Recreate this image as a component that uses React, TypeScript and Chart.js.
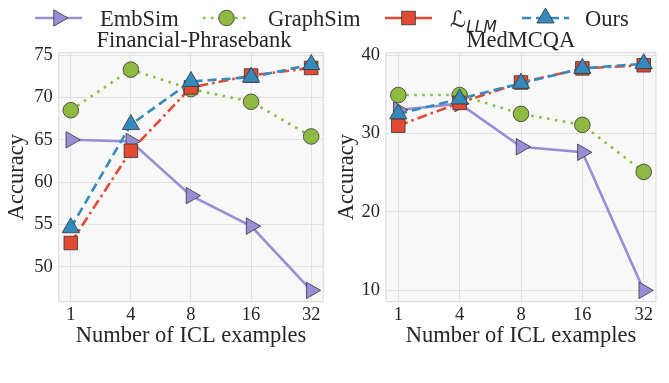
import React, { useEffect, useRef } from "react";
import { Chart, registerables } from "chart.js";

Chart.register(...registerables);

// ---------- data ----------
const xLabels = ["1", "4", "8", "16", "32"];
const seriesNames = ["EmbSim", "GraphSim", "LLLM", "Ours"];

const finEmbSim = [65.0, 64.8, 58.4, 54.8, 47.2];
const finGraphSim = [68.5, 73.3, 71.0, 69.5, 65.4];
const finLLLM = [52.8, 63.7, 71.2, 72.6, 73.5];
const finOurs = [54.6, 66.8, 71.9, 72.4, 73.9];
const finYTicks = [50, 55, 60, 65, 70, 75];

const medEmbSim = [33.0, 33.8, 28.3, 27.6, 10.0];
const medGraphSim = [34.9, 34.9, 32.5, 31.1, 25.1];
const medLLLM = [31.0, 33.9, 36.5, 38.3, 38.7];
const medOurs = [32.5, 34.4, 36.4, 38.3, 38.9];
const medYTicks = [10, 20, 30, 40];

// ---------- styles ----------
const COLORS = ["#988ED5", "#8EBA42", "#E24A33", "#348ABD"];
const DASHES: number[][] = [[], [2.5, 5.5], [10, 4, 2.5, 4], [9, 5]];
const POINT_STYLES = ["triangle", "circle", "rect", "triangle"];
const POINT_ROT = [90, 0, 0, 0];
const POINT_RAD = [9.5, 7.8, 9.6, 10];
const EDGE = "#333333";
const TEXT = "#262626";
const SERIF = "'Liberation Serif', 'Times New Roman', serif";

const bgPlugin = {
  id: "plotBg",
  beforeDraw(chart: any) {
    const { ctx, chartArea } = chart;
    const { left, top, right, bottom } = chartArea;
    ctx.save();
    ctx.fillStyle = "#f8f8f8";
    ctx.fillRect(left, top, right - left, bottom - top);
    ctx.restore();
  },
  beforeDatasetsDraw(chart: any) {
    const { ctx, chartArea } = chart;
    const { left, top, right, bottom } = chartArea;
    ctx.save();
    ctx.strokeStyle = "#d6d6d6";
    ctx.lineWidth = 1;
    ctx.strokeRect(left, top, right - left, bottom - top);
    ctx.restore();
  },
};

type PanelProps = {
  series: number[][];
  yTicks: number[];
  yMin: number;
  yMax: number;
  left: number;
  width: number;
  padRight: number;
  yAxisWidth: number;
  yTitlePad: number;
};

function Panel(p: PanelProps) {
  const ref = useRef<HTMLCanvasElement | null>(null);
  useEffect(() => {
    if (!ref.current) return;
    const datasets = p.series.map((vals, i) => ({
      label: seriesNames[i],
      data: vals.map((v, k) => ({ x: k, y: v })),
      borderColor: COLORS[i],
      backgroundColor: COLORS[i],
      borderWidth: 2.6,
      borderDash: DASHES[i],
      pointStyle: POINT_STYLES[i],
      rotation: POINT_ROT[i],
      pointRadius: POINT_RAD[i],
      pointBackgroundColor: COLORS[i],
      pointBorderColor: EDGE,
      pointBorderWidth: 0.8,
      tension: 0,
      clip: false as any,
      order: 3 - i,
    }));
    const chart = new Chart(ref.current, {
      type: "line",
      data: { datasets },
      plugins: [bgPlugin],
      options: {
        animation: false,
        responsive: false,
        events: [],
        layout: { padding: { top: 52.7, left: 0, right: p.padRight, bottom: 33.8 } },
        plugins: { legend: { display: false }, tooltip: { enabled: false }, title: { display: false } },
        scales: {
          x: {
            type: "linear",
            min: -0.2,
            max: 4.2,
            afterBuildTicks: (s: any) => {
              s.ticks = xLabels.map((_, k) => ({ value: k }));
            },
            afterFit: (s: any) => {
              s.height = 47.5;
            },
            ticks: {
              callback: (v: any) => xLabels[Number(v)] ?? "",
              font: { family: SERIF, size: 18.5 },
              color: TEXT,
              padding: 2,
              maxRotation: 0,
              autoSkip: false,
            },
            grid: { color: "#e2e2e2", lineWidth: 1, drawTicks: false },
            border: { display: false },
            title: {
              display: true,
              text: "Number of ICL examples",
              font: { family: SERIF, size: 22.5 },
              color: TEXT,
              padding: { top: 0, bottom: 0 },
            },
          },
          y: {
            type: "linear",
            min: p.yMin,
            max: p.yMax,
            afterBuildTicks: (s: any) => {
              s.ticks = p.yTicks.map((v) => ({ value: v }));
            },
            afterFit: (s: any) => {
              s.width = p.yAxisWidth;
            },
            ticks: {
              font: { family: SERIF, size: 18.5 },
              color: TEXT,
              padding: 6,
            },
            grid: { color: "#e2e2e2", lineWidth: 1, drawTicks: false },
            border: { display: false },
            title: {
              display: true,
              text: "Accuracy",
              font: { family: SERIF, size: 22.5 },
              color: TEXT,
              padding: { top: p.yTitlePad, bottom: 0 },
            },
          },
        },
      },
    });
    return () => chart.destroy();
  }, []);
  return (
    <canvas
      ref={ref}
      width={p.width}
      height={383}
      style={{ position: "absolute", left: p.left, top: 0, width: p.width, height: 383 }}
    />
  );
}

function LegendSample({ i, x }: { i: number; x: number }) {
  const w = 47;
  const cy = 10;
  const cx = w / 2;
  const r = POINT_RAD[i];
  let marker: React.ReactNode = null;
  if (i === 0) {
    marker = (
      <polygon
        points={`${cx + r},${cy} ${cx - r / 2},${cy - r * 0.866} ${cx - r / 2},${cy + r * 0.866}`}
        fill={COLORS[i]}
        stroke={EDGE}
        strokeWidth={0.8}
      />
    );
  } else if (i === 1) {
    marker = <circle cx={cx} cy={cy} r={r} fill={COLORS[i]} stroke={EDGE} strokeWidth={0.8} />;
  } else if (i === 2) {
    const s = r * Math.SQRT1_2;
    marker = <rect x={cx - s} y={cy - s} width={2 * s} height={2 * s} fill={COLORS[i]} stroke={EDGE} strokeWidth={0.8} />;
  } else {
    marker = (
      <polygon
        points={`${cx},${cy - r} ${cx + r * 0.866},${cy + r / 2} ${cx - r * 0.866},${cy + r / 2}`}
        fill={COLORS[i]}
        stroke={EDGE}
        strokeWidth={0.8}
      />
    );
  }
  const dash = i === 2 ? undefined : DASHES[i].length ? DASHES[i].join(" ") : undefined;
  return (
    <svg width={w} height={22} style={{ position: "absolute", left: x, top: 8.3, overflow: "visible" }}>
      <line x1={0} y1={cy} x2={w} y2={cy} stroke={COLORS[i]} strokeWidth={2.6} strokeDasharray={dash} />
      {marker}
    </svg>
  );
}

const textStyle: React.CSSProperties = {
  position: "absolute",
  fontFamily: SERIF,
  fontSize: 22.5,
  lineHeight: "22.5px",
  color: TEXT,
  whiteSpace: "nowrap",
};

export default function App() {
  const sampleX = [35, 203, 385, 522];
  const textX = [100, 268, 450, 585];
  return (
    <div style={{ position: "fixed", left: 0, top: 0, width: 669, height: 383, background: "#ffffff", overflow: "hidden" }}>
      <Panel
        series={[finEmbSim, finGraphSim, finLLLM, finOurs]}
        yTicks={finYTicks}
        yMin={45.86}
        yMax={75.3}
        left={0}
        width={334}
        padRight={5}
        yAxisWidth={58.75}
        yTitlePad={3.8}
      />
      <Panel
        series={[medEmbSim, medGraphSim, medLLLM, medOurs]}
        yTicks={medYTicks}
        yMin={8.55}
        yMax={40.3}
        left={332}
        width={337}
        padRight={13}
        yAxisWidth={54}
        yTitlePad={1.2}
      />
      <div style={{ ...textStyle, left: 44, width: 300, top: 29.2, textAlign: "center" }}>Financial-Phrasebank</div>
      <div style={{ ...textStyle, left: 371, width: 300, top: 29.2, textAlign: "center" }}>MedMCQA</div>
      {seriesNames.map((_, i) => (
        <LegendSample key={i} i={i} x={sampleX[i]} />
      ))}
      <div style={{ ...textStyle, left: textX[0], top: 7.7 }}>EmbSim</div>
      <div style={{ ...textStyle, left: textX[1], top: 7.7 }}>GraphSim</div>
      <div style={{ ...textStyle, left: textX[2], top: 7.7 }}>
        <span style={{ fontFamily: "'DejaVu Serif', 'DejaVu Sans', serif", fontStyle: "italic" }}>ℒ</span>
        <span style={{ fontFamily: "'DejaVu Sans', sans-serif", fontStyle: "italic", fontSize: 15.5, position: "relative", top: 5 }}>
          LLM
        </span>
      </div>
      <div style={{ ...textStyle, left: textX[3], top: 7.7 }}>Ours</div>
    </div>
  );
}
